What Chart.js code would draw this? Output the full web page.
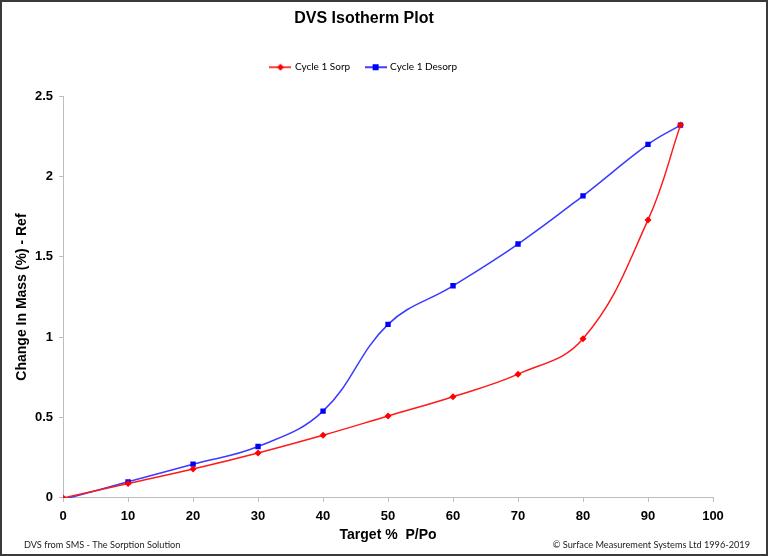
<!DOCTYPE html>
<html>
<head>
<meta charset="utf-8">
<script src="https://cdn.jsdelivr.net/npm/chart.js@4"></script>
<style>
  html, body { margin: 0; padding: 0; background: #fff; }
  #wrap { width: 768px; height: 556px; box-sizing: border-box; border: 2px solid #3a3a3a; position: relative; }
  canvas { display: block; }
</style>
</head>
<body>
<div id="wrap"><canvas id="chart" width="764" height="552"></canvas></div>
<script>
const sorpPressure = [0, 10, 20, 30, 40, 50, 60, 70, 80, 90, 95];
const sorpMass = [0, 0.09, 0.18, 0.28, 0.39, 0.51, 0.63, 0.77, 0.99, 1.73, 2.32];
const desorpPressure = [95, 90, 80, 70, 60, 50, 40, 30, 20, 10, 0];
const desorpMass = [2.32, 2.20, 1.88, 1.58, 1.32, 1.08, 0.54, 0.32, 0.21, 0.10, -0.01];
const xTicks = [0, 10, 20, 30, 40, 50, 60, 70, 80, 90, 100];
const yTicks = [0, 0.5, 1, 1.5, 2, 2.5];

const toPoints = (xs, ys) => xs.map((x, i) => ({ x: x, y: ys[i] }));

// legend swatch: short line with the marker in the middle
const swatch = (color, style) => {
  const c = document.createElement('canvas');
  c.width = 22; c.height = 10;
  const g = c.getContext('2d');
  g.strokeStyle = color; g.lineWidth = 1.5;
  g.beginPath(); g.moveTo(0, 5); g.lineTo(22, 5); g.stroke();
  g.fillStyle = color;
  if (style === 'rect') {
    g.fillRect(8, 2, 6, 6);
  } else {
    g.beginPath(); g.moveTo(11, 1.5); g.lineTo(14.5, 5); g.lineTo(11, 8.5); g.lineTo(7.5, 5); g.closePath(); g.fill();
  }
  return c;
};

// extra room under the legend
const legendGap = {
  id: 'legendGap',
  beforeInit(chart) {
    const fit = chart.legend.fit;
    chart.legend.fit = function () {
      fit.call(this);
      this.height += 14;
    };
  }
};

const footer = {
  id: 'footer',
  afterDraw(chart) {
    const ctx = chart.ctx;
    ctx.save();
    ctx.font = '9.2px Lato, "Open Sans", sans-serif';
    ctx.fillStyle = '#222';
    ctx.textBaseline = 'middle';
    ctx.textAlign = 'left';
    ctx.fillText('DVS from SMS - The Sorption Solution', 22, 543);
    ctx.textAlign = 'right';
    ctx.fillText('\u00A9 Surface Measurement Systems Ltd 1996-2019', 748, 543);
    ctx.restore();
  }
};

new Chart(document.getElementById('chart'), {
  type: 'line',
  data: {
    datasets: [
      {
        label: 'Cycle 1 Sorp',
        data: toPoints(sorpPressure, sorpMass),
        borderColor: '#ff1a1a',
        backgroundColor: '#ff0000',
        borderWidth: 1.5,
        pointStyle: 'rectRot',
        pointRadius: 3.5,
        pointBorderWidth: 0,
        tension: 0.4,
        fill: false
      },
      {
        label: 'Cycle 1 Desorp',
        data: toPoints(desorpPressure, desorpMass),
        borderColor: '#3b3bff',
        backgroundColor: '#0000ff',
        borderWidth: 1.5,
        pointStyle: 'rect',
        pointRadius: 3.8,
        pointBorderWidth: 0,
        tension: 0.4,
        fill: false
      }
    ]
  },
  options: {
    responsive: false,
    animation: false,
    layout: { padding: { top: 0, right: 53, bottom: 11.5, left: 13 } },
    plugins: {
      title: {
        display: true,
        text: 'DVS Isotherm Plot',
        color: '#000',
        font: { family: 'Arial, "Liberation Sans", sans-serif', size: 16, weight: 'bold' },
        padding: { top: 7, bottom: 18 }
      },
      legend: {
        position: 'top',
        labels: {
          color: '#222',
          font: { family: 'Lato, "Open Sans", sans-serif', size: 10 },
          usePointStyle: true,
          pointStyleWidth: 19,
          boxHeight: 10,
          padding: 16,
          generateLabels: (chart) => chart.data.datasets.map((ds, i) => ({
            text: ds.label,
            pointStyle: swatch(ds.backgroundColor, ds.pointStyle),
            fillStyle: ds.backgroundColor,
            strokeStyle: ds.backgroundColor,
            lineWidth: 0,
            datasetIndex: i,
            hidden: false
          }))
        }
      },
      tooltip: { enabled: false }
    },
    scales: {
      x: {
        type: 'linear',
        min: 0,
        max: 100,
        afterBuildTicks: (scale) => { scale.ticks = xTicks.map(v => ({ value: v })); },
        border: { color: '#bdbdbd', width: 1 },
        grid: { display: true, drawOnChartArea: false, tickLength: 4, color: '#bdbdbd' },
        ticks: {
          color: '#000',
          font: { family: 'Arial, "Liberation Sans", sans-serif', size: 13, weight: 'bold' },
          padding: 7,
          maxRotation: 0
        },
        title: {
          display: true,
          text: 'Target %  P/Po',
          color: '#000',
          font: { family: 'Arial, "Liberation Sans", sans-serif', size: 14, weight: 'bold', lineHeight: 1 },
          padding: { top: -3, bottom: 0 }
        }
      },
      y: {
        type: 'linear',
        min: 0,
        max: 2.5,
        afterBuildTicks: (scale) => { scale.ticks = yTicks.map(v => ({ value: v })); },
        border: { color: '#bdbdbd', width: 1 },
        grid: { display: true, drawOnChartArea: false, tickLength: 4, color: '#bdbdbd' },
        ticks: {
          color: '#000',
          font: { family: 'Arial, "Liberation Sans", sans-serif', size: 13, weight: 'bold' },
          padding: 6,
          callback: (v) => String(v)
        },
        title: {
          display: true,
          text: 'Change In Mass (%) - Ref',
          color: '#000',
          font: { family: 'Arial, "Liberation Sans", sans-serif', size: 14, weight: 'bold', lineHeight: 1 },
          padding: { top: 0, bottom: 0 }
        }
      }
    }
  },
  plugins: [footer, legendGap]
});
</script>
</body>
</html>
